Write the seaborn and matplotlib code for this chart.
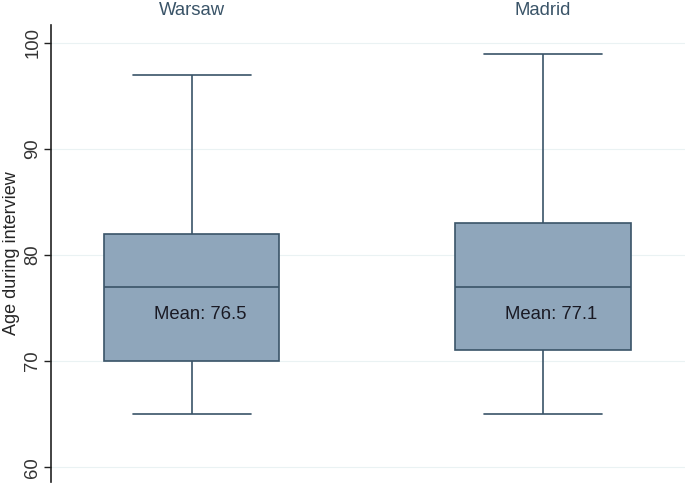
import numpy as np
import pandas as pd
import matplotlib
matplotlib.use("Agg")
import matplotlib.pyplot as plt
import seaborn as sns

# five-number summaries (min, q1, median, q3, max)
cities = ["Warsaw", "Madrid"]
warsaw_ages = [65, 70, 77, 82, 97]
madrid_ages = [65, 71, 77, 83, 99]
means = [76.5, 77.1]
y_ticks = [60, 70, 80, 90, 100]

df = pd.DataFrame({
    "city": ["Warsaw"] * len(warsaw_ages) + ["Madrid"] * len(madrid_ages),
    "age": warsaw_ages + madrid_ages,
})

sns.set_style("white")
plt.rcParams['font.family'] = ['Liberation Sans', 'DejaVu Sans']

fill = "#8FA6BB"
edge = "#3A5468"

fig = plt.figure(figsize=(6.85, 4.87), dpi=100)
ax = fig.add_axes([0.0745, 0.0103, 0.9255, 0.9385])

sns.boxplot(data=df, x="city", y="age", order=cities, ax=ax,
            color=fill, linecolor=edge, linewidth=1.2, width=0.5,
            whis=1.5, saturation=1, showfliers=False, capwidths=0.336)

for i, m in enumerate(means):
    ax.text(i + 0.025, 74.4, f"Mean: {m}", ha="center", va="center",
            fontsize=13.3, color="#1A1A24")

ax.set_ylim(58.6, 101.7)
ax.set_xlim(-0.40, 1.405)
ax.set_yticks(y_ticks)
ax.set_yticklabels([str(t) for t in y_ticks], rotation=90, va="center",
                   fontsize=13.3, color="#333333")
ax.yaxis.grid(True, color="#EAF2F3", linewidth=0.8)
ax.set_axisbelow(True)

ax.xaxis.tick_top()
ax.tick_params(axis="x", length=0, pad=4, labelsize=13.3, labelcolor="#3A5468")
ax.tick_params(axis="y", left=True, length=5, width=1, color="#222222", pad=2)
ax.set_xlabel("")
ax.set_ylabel("Age during interview", fontsize=13, labelpad=3)

for s in ["top", "right", "bottom"]:
    ax.spines[s].set_visible(False)
ax.spines["left"].set_color("#222222")
ax.spines["left"].set_linewidth(1.2)

fig.savefig("out.png", dpi=100)
